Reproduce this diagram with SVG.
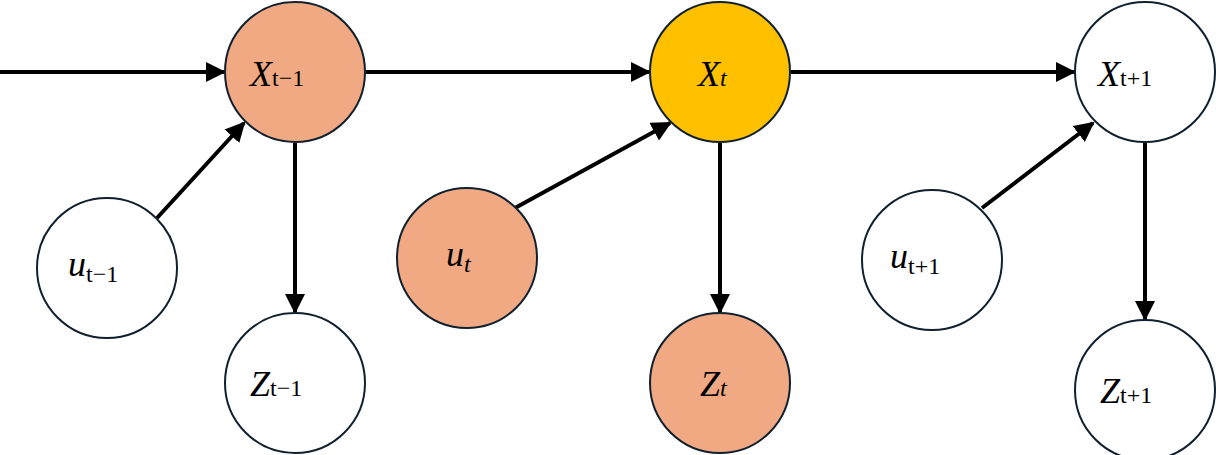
<svg xmlns="http://www.w3.org/2000/svg" width="1216" height="455" viewBox="0 0 1216 455">
<defs>
<style>
.n{stroke:#10202e;stroke-width:2;fill:#fff}
.p{fill:#F1A983}.g{fill:#FFC000}
.t{font-family:"Liberation Serif",serif;font-style:italic;font-size:36px;fill:#000}
.s{font-size:24px}
.e{stroke:#000;stroke-width:4;fill:none;marker-end:url(#a)}
</style>
<marker id="a" markerWidth="5" markerHeight="5" refX="4.5" refY="2.5" orient="auto" markerUnits="strokeWidth"><path d="M0,0L5,2.5L0,5z" fill="#000"/></marker>
</defs>
<g id="connectors">
<line class="e" x1="0" y1="72" x2="224" y2="72"/>
<line class="e" x1="366" y1="72" x2="649" y2="72"/>
<line class="e" x1="791" y1="72" x2="1074" y2="72"/>
<line class="e" x1="157" y1="218" x2="244" y2="123"/>
<line class="e" x1="515" y1="208" x2="670" y2="123"/>
<line class="e" x1="982" y1="208" x2="1093" y2="123"/>
<line class="e" x1="295" y1="143" x2="295" y2="312"/>
<line class="e" x1="720" y1="143" x2="720" y2="312"/>
<line class="e" x1="1145" y1="143" x2="1145" y2="319"/>
</g>
<g id="Xtm1"><circle class="n p" cx="295" cy="72" r="70"/><text class="t" x="250" y="86">X<tspan class="s" font-style="normal">t−1</tspan></text></g>
<g id="Xt"><circle class="n g" cx="720" cy="72" r="70"/><text class="t" x="698" y="86">X<tspan class="s">t</tspan></text></g>
<g id="Xtp1"><circle class="n" cx="1145" cy="72" r="70"/><text class="t" x="1098" y="86">X<tspan class="s" font-style="normal">t+1</tspan></text></g>
<g id="utm1"><circle class="n" cx="107" cy="268" r="70"/><text class="t" x="68" y="276">u<tspan class="s" dy="6" font-style="normal">t−1</tspan></text></g>
<g id="ut"><circle class="n p" cx="467" cy="258" r="70"/><text class="t" x="446" y="266">u<tspan class="s" dy="6">t</tspan></text></g>
<g id="utp1"><circle class="n" cx="932" cy="260" r="70"/><text class="t" x="890" y="268">u<tspan class="s" dy="6" font-style="normal">t+1</tspan></text></g>
<g id="Ztm1"><circle class="n" cx="295" cy="383" r="70"/><text class="t" x="250" y="396">Z<tspan class="s" font-style="normal">t−1</tspan></text></g>
<g id="Zt"><circle class="n p" cx="720" cy="383" r="70"/><text class="t" x="700" y="396">Z<tspan class="s">t</tspan></text></g>
<g id="Ztp1"><circle class="n" cx="1145" cy="390" r="70"/><text class="t" x="1100" y="403">Z<tspan class="s" font-style="normal">t+1</tspan></text></g>
</svg>
